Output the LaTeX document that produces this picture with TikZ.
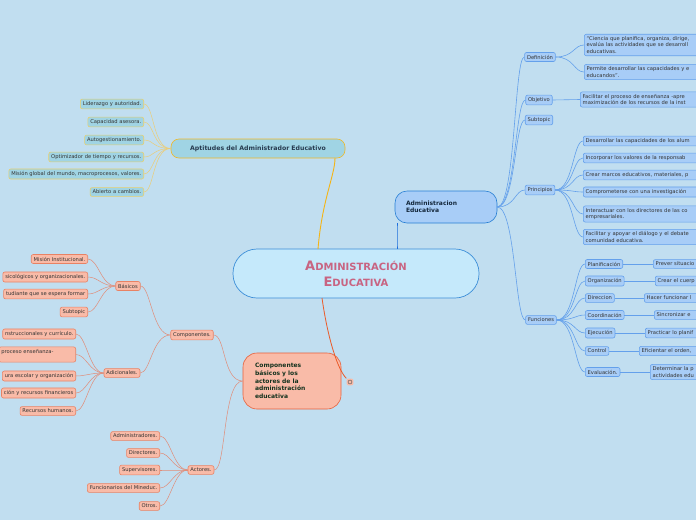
\documentclass[tikz,border=0pt]{standalone}
\usepackage{fontspec}
\setmainfont{DejaVu Sans}
\definecolor{bgc}{RGB}{193,222,240}
\definecolor{blf}{RGB}{168,205,247}
\definecolor{bld}{RGB}{100,160,235}
\definecolor{bldm}{RGB}{30,110,220}
\definecolor{aef}{RGB}{40,127,212}
\definecolor{apf}{RGB}{160,212,228}
\definecolor{apd}{RGB}{232,208,112}
\definecolor{apm}{RGB}{240,185,40}
\definecolor{apl}{RGB}{245,180,20}
\definecolor{apc}{RGB}{235,205,120}
\definecolor{rdf}{RGB}{249,187,168}
\definecolor{rdd}{RGB}{232,130,100}
\definecolor{rdm}{RGB}{232,96,58}
\definecolor{rdl}{RGB}{235,90,40}
\definecolor{rdc}{RGB}{225,140,120}
\definecolor{cd}{RGB}{60,142,216}
\definecolor{cf}{RGB}{197,233,251}
\definecolor{ct}{RGB}{200,100,130}
\definecolor{tdark}{RGB}{20,40,60}
\definecolor{tgreen}{RGB}{20,50,30}
\definecolor{tap}{RGB}{40,60,80}
\begin{document}
\begin{tikzpicture}[x={(1pt,0pt)},y={(0pt,-1pt)},
 base/.style={rounded corners=2pt,line width=0.6pt,font=\fontsize{5.2}{6.3}\selectfont,inner sep=2.4pt,text=black!80,align=left},
 bl/.style={base,fill=blf,draw=bld},
 ap/.style={base,fill=apf,draw=apd},
 rd/.style={base,fill=rdf,draw=rdd},
 bc/.style={draw=bld,line width=0.6pt},
 bcm/.style={draw=bldm,line width=1pt},
 ac/.style={draw=apc,line width=0.5pt},
 rc/.style={draw=rdc,line width=0.5pt},
]
\fill[bgc] (0,0) rectangle (696,520);
\useasboundingbox (0,0) rectangle (696,520);
\begin{scope}
\clip (0,0) rectangle (696,520);
% center
\node[draw=cd,fill=cf,line width=0.7pt,rounded corners=24pt,minimum width=246pt,minimum height=49pt,align=center,text=ct,font=\bfseries\fontsize{13}{16}\selectfont] (c) at (356,273.5) {A{\fontsize{10}{12}\selectfont DMINISTRACIÓN}\\E{\fontsize{10}{12}\selectfont DUCATIVA}};
% right main
\node[bl,rounded corners=12pt,minimum width=102pt,minimum height=32pt,font=\bfseries\fontsize{6}{7.5}\selectfont,text=tdark,draw=aef,text width=80pt] (ae) at (446,207) {Administracion\\Educativa};
\node[bl] (def) at (540,57) {Definición};
\node[bl] (obj) at (539,100) {Objetivo};
\node[bl] (sub) at (539,120) {Subtopic};
\node[bl] (pri) at (540,190) {Principios};
\node[bl] (fun) at (541,320) {Funciones};
\node[bl,anchor=west,text width=130pt] (d1) at (584,45) {“Ciencia que planifica, organiza, dirige,\\evalúa las actividades que se desarroll\\educativas.};
\node[bl,anchor=west,text width=130pt] (d2) at (584,72) {Permite desarrollar las capacidades y e\\educandos”.};
\node[bl,anchor=west,text width=130pt] (o1) at (580,99.5) {Facilitar el proceso de  enseñanza -apre\\maximización de  los  recursos de la inst};
\foreach \n/\y/\t in {p1/141/Desarrollar las capacidades de los alum,p2/158/Incorporar  los valores de la responsab,p3/175/{Crear marcos educativos, materiales, p},p4/192/Comprometerse con una investigación}
 \node[bl,anchor=west,text width=130pt] (\n) at (583,\y) {\t};
\node[bl,anchor=west,text width=130pt] (p5) at (583,214) {Interactuar con los directores de las co\\empresariales.};
\node[bl,anchor=west,text width=130pt] (p6) at (583,237) {Facilitar y apoyar el diálogo y el debate\\comunidad educativa.};
\foreach \n/\y/\t/\m/\x/\u in {f1/264/Planificación/g1/653/Prever situacio,f2/281/Organización/g2/655/Crear el cuerp,f3/298/Direccion/g3/644/Hacer funcionar l,f4/315/Coordinación/g4/654/Sincronizar e,f5/333/Ejecución/g5/645/Practicar lo planif,f6/351/Control/g6/639/{Eficientar el orden,}}{
 \node[bl,anchor=west] (\n) at (585,\y) {\t};
 \node[bl,anchor=west,text width=80pt] (\m) at (\x,\y) {\u};
 \draw[bc] (\n.east) -- (\m.west);
 \draw[bc] (fun.east) .. controls +(18,0) and +(-10,0) .. (\n.west);}
\node[bl,anchor=west] (f7) at (585,372) {Evaluación.};
\node[bl,anchor=west,text width=80pt] (g7) at (650,372) {Determinar la p\\actividades edu};
\draw[bc] (f7.east) -- (g7.west);
\draw[bc] (fun.east) .. controls +(18,0) and +(-10,0) .. (f7.west);
\foreach \n in {d1,d2} \draw[bc] (def.east) .. controls +(18,0) and +(-10,0) .. (\n.west);
\draw[bc] (obj.east) -- (o1.west);
\foreach \n in {p1,p2,p3,p4,p5,p6} \draw[bc] (pri.east) .. controls +(18,0) and +(-10,0) .. (\n.west);
\foreach \n in {def,obj,sub,pri,fun} \draw[bc] (ae.east) .. controls +(18,0) and +(-10,0) .. (\n.west);
\draw[bcm] (397,249) .. controls (397,235) and (397,230) .. (397,223);
% aptitudes
\node[ap,rounded corners=8pt,minimum width=174pt,minimum height=19pt,draw=apm,font=\bfseries\fontsize{6.2}{7.5}\selectfont,text=tap] (apt) at (258,148.5) {Aptitudes del Administrador Educativo};
\foreach \n/\y/\t in {a1/104/Liderazgo y autoridad.,a2/122/Capacidad asesora.,a3/140/Autogestionamiento.,a4/157/Optimizador de tiempo y recursos.,a5/174/{Misión global del mundo, macroprocesos, valores.},a6/192/Abierto a cambios.}{
 \node[ap,anchor=east] (\n) at (144,\y) {\t};
 \draw[ac] (apt.west) .. controls +(-18,0) and +(10,0) .. (\n.east);}
\draw[draw=apl,line width=0.9pt] (318,249) .. controls (322,200) and (335,175) .. (335,158);
% componentes
\node[rd,rounded corners=14pt,minimum width=98pt,minimum height=56pt,draw=rdm,font=\bfseries\fontsize{6}{7.6}\selectfont,text=tgreen,text width=74pt] (cb) at (292,381) {Componentes\\básicos y los\\actores de la\\administración\\educativa};
\node[rd,draw=none,inner sep=1.2pt,font=\fontsize{6}{6}\selectfont] (ic) at (350,382) {\tikz\draw[line width=0.4pt,draw=black!70](0,0) rectangle (4pt,4pt);};
\draw[draw=rdl,line width=0.8pt] (322,298) .. controls (328,340) and (338,370) .. (ic.north west);
\node[rd] (comp) at (192,335) {Componentes.};
\node[rd] (bas) at (128,286) {Básicos};
\node[rd] (adi) at (122,373) {Adicionales.};
\node[rd] (act) at (201,470) {Actores.};
\foreach \n in {comp,act} \draw[rc] (cb.west) .. controls +(-20,0) and +(12,0) .. (\n.east);
\foreach \n in {bas,adi} \draw[rc] (comp.west) .. controls +(-18,0) and +(10,0) .. (\n.east);
\foreach \n/\y/\t in {b1/259/Misión Institucional.,b2/277/sicológicos y organizacionales.,b3/294/tudiante que se espera formar,b4/312/Subtopic}{
 \node[rd,anchor=east] (\n) at (88,\y) {\t};
 \draw[rc] (bas.west) .. controls +(-14,0) and +(10,0) .. (\n.east);}
\foreach \n/\y/\t in {c1/334/nstruccionales y currículo.,c3/376/ura escolar y organización,c4/393/ción y recursos financieros,c5/411/Recursos humanos.}{
 \node[rd,anchor=east] (\n) at (76,\y) {\t};
 \draw[rc] (adi.west) .. controls +(-14,0) and +(10,0) .. (\n.east);}
\node[rd,anchor=east,text width=72pt] (c2) at (76,354.5) {proceso enseñanza-\\\mbox{}};
\draw[rc] (adi.west) .. controls +(-14,0) and +(10,0) .. (c2.east);
\foreach \n/\y/\t in {e1/436/Administradores.,e2/453/Directores.,e3/470/Supervisores.,e4/488/Funcionarios del Mineduc.,e5/506/Otros.}{
 \node[rd,anchor=east] (\n) at (160,\y) {\t};
 \draw[rc] (act.west) .. controls +(-14,0) and +(10,0) .. (\n.east);}
\end{scope}
\end{tikzpicture}
\end{document}
